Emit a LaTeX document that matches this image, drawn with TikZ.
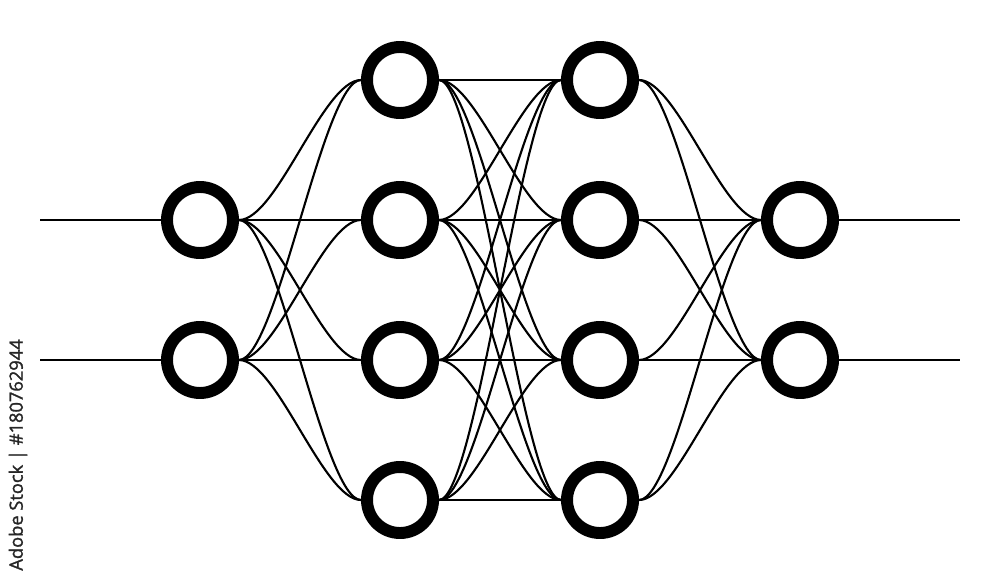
\documentclass[tikz,border=0pt]{standalone}
\usepackage{fontspec}
\newfontfamily\stockfont[FakeBold=1.5]{Open Sans}
\usetikzlibrary{
		calc,
		positioning
	}
\tikzset{
		neuron/.style={circle, draw=black, line width=3.4pt, minimum size=0.66cm, inner sep=0pt, fill=white},
		wire/.style={line width=0.6pt}
	}
\newcommand{\synapse}[2]{\draw[wire] (#1.east) .. controls +(0.38,0) and +(-0.38,0) .. (#2.west);}

\begin{document}
\begin{tikzpicture}
    \useasboundingbox (0,0) rectangle (10,5.8);

    % the neurons of the four layers
    \node[neuron] (i1) at (2,3.6) {};
    \node[neuron] (i2) at (2,2.2) {};
    \node[neuron] (h1) at (4,5.0) {};
    \node[neuron] (h2) at (4,3.6) {};
    \node[neuron] (h3) at (4,2.2) {};
    \node[neuron] (h4) at (4,0.8) {};
    \node[neuron] (k1) at (6,5.0) {};
    \node[neuron] (k2) at (6,3.6) {};
    \node[neuron] (k3) at (6,2.2) {};
    \node[neuron] (k4) at (6,0.8) {};
    \node[neuron] (o1) at (8,3.6) {};
    \node[neuron] (o2) at (8,2.2) {};

    % free ends of the input and output lines
    \coordinate (in1) at (0.4,3.6);
    \coordinate (in2) at (0.4,2.2);
    \coordinate (out1) at (9.6,3.6);
    \coordinate (out2) at (9.6,2.2);

    % the connections
    \draw[wire] (in1) -- (i1);
    \draw[wire] (in2) -- (i2);
    \draw[wire] (o1) -- (out1);
    \draw[wire] (o2) -- (out2);
    \foreach \a in {1,2}{
        \foreach \b in {1,...,4}{
            \synapse{i\a}{h\b}
        }
    }
    \foreach \a in {1,...,4}{
        \foreach \b in {1,...,4}{
            \synapse{h\a}{k\b}
        }
    }
    \foreach \a in {1,...,4}{
        \foreach \b in {1,2}{
            \synapse{k\a}{o\b}
        }
    }

    % the stock label
    \node[rotate=90, text=black!85, font=\stockfont\fontsize{5.2}{6}\selectfont] (stock) at (0.18,1.25) {Adobe Stock | \#180762944};

\end{tikzpicture}
\end{document}
